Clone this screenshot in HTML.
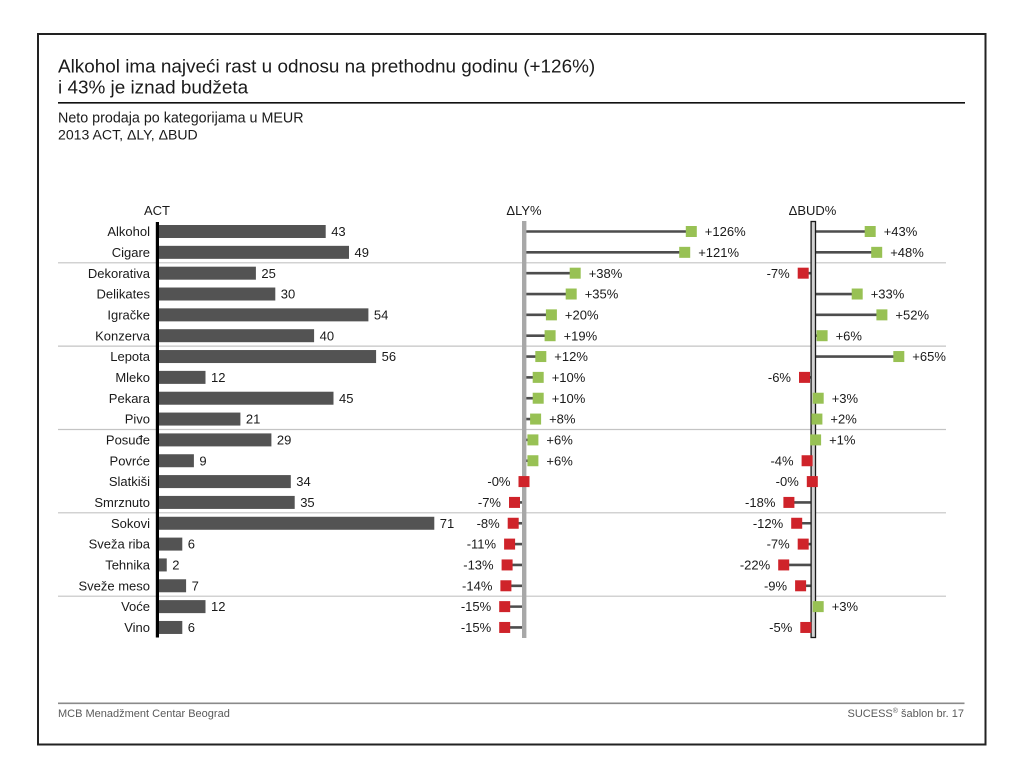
<!DOCTYPE html>
<html>
<head>
<meta charset="utf-8">
<style>
html,body{margin:0;padding:0;background:#fff;}
svg{display:block;}
text{font-family:"Liberation Sans",Arial,sans-serif;fill:#1a1a1a;}
.c{font-size:13px;text-anchor:end;}
.v{font-size:13px;}
.n{font-size:13px;text-anchor:end;}
.h{font-size:13px;text-anchor:middle;}
.f{font-size:11px;fill:#5a5a5a;}
</style>
</head>
<body>
<svg width="1024" height="779" viewBox="0 0 1024 779" xmlns="http://www.w3.org/2000/svg">
<rect x="0" y="0" width="1024" height="779" fill="#fff"/>
<rect x="38" y="34" width="947.5" height="710.5" fill="none" stroke="#222" stroke-width="2"/>

<!-- Title -->
<text x="58" y="72.7" style="font-size:18.9px">Alkohol ima najveći rast u odnosu na prethodnu godinu (+126%)</text>
<text x="58" y="93.3" style="font-size:18.9px">i 43% je iznad budžeta</text>
<line x1="58" y1="102.8" x2="965" y2="102.8" stroke="#111" stroke-width="1.6"/>
<text x="58" y="122.5" style="font-size:14.3px">Neto prodaja po kategorijama u MEUR</text>
<text x="58" y="139.5" style="font-size:14.1px">2013 ACT, ΔLY, ΔBUD</text>

<!-- separators -->
<g stroke="#c4c4c4" stroke-width="1.2">
<line x1="58" y1="262.8" x2="946" y2="262.8"/>
<line x1="58" y1="346.1" x2="946" y2="346.1"/>
<line x1="58" y1="429.5" x2="946" y2="429.5"/>
<line x1="58" y1="512.8" x2="946" y2="512.8"/>
<line x1="58" y1="596.2" x2="946" y2="596.2"/>
</g>

<!-- Headers -->
<text class="h" x="157" y="215">ACT</text>
<text class="h" x="524" y="215">ΔLY%</text>
<text class="h" x="812.5" y="215">ΔBUD%</text>

<!-- ACT bars -->
<g fill="#535353">
<rect x="159" y="225" width="166.7" height="13"/>
<rect x="159" y="245.84" width="190" height="13"/>
<rect x="159" y="266.68" width="96.9" height="13"/>
<rect x="159" y="287.52" width="116.3" height="13"/>
<rect x="159" y="308.36" width="209.4" height="13"/>
<rect x="159" y="329.2" width="155.1" height="13"/>
<rect x="159" y="350.04" width="217.1" height="13"/>
<rect x="159" y="370.88" width="46.5" height="13"/>
<rect x="159" y="391.72" width="174.5" height="13"/>
<rect x="159" y="412.56" width="81.4" height="13"/>
<rect x="159" y="433.4" width="112.4" height="13"/>
<rect x="159" y="454.24" width="34.9" height="13"/>
<rect x="159" y="475.08" width="131.8" height="13"/>
<rect x="159" y="495.92" width="135.7" height="13"/>
<rect x="159" y="516.76" width="275.3" height="13"/>
<rect x="159" y="537.6" width="23.3" height="13"/>
<rect x="159" y="558.44" width="7.75" height="13"/>
<rect x="159" y="579.28" width="27.1" height="13"/>
<rect x="159" y="600.12" width="46.5" height="13"/>
<rect x="159" y="620.96" width="23.3" height="13"/>
</g>
<rect x="155.8" y="222" width="3.2" height="415.5" fill="#000"/>

<!-- Category labels -->
<text class="c" x="150" y="236.1">Alkohol</text>
<text class="c" x="150" y="256.9">Cigare</text>
<text class="c" x="150" y="277.8">Dekorativa</text>
<text class="c" x="150" y="298.6">Delikates</text>
<text class="c" x="150" y="319.5">Igračke</text>
<text class="c" x="150" y="340.3">Konzerva</text>
<text class="c" x="150" y="361.1">Lepota</text>
<text class="c" x="150" y="382">Mleko</text>
<text class="c" x="150" y="402.8">Pekara</text>
<text class="c" x="150" y="423.7">Pivo</text>
<text class="c" x="150" y="444.5">Posuđe</text>
<text class="c" x="150" y="465.3">Povrće</text>
<text class="c" x="150" y="486.2">Slatkiši</text>
<text class="c" x="150" y="507">Smrznuto</text>
<text class="c" x="150" y="527.9">Sokovi</text>
<text class="c" x="150" y="548.7">Sveža riba</text>
<text class="c" x="150" y="569.5">Tehnika</text>
<text class="c" x="150" y="590.4">Sveže meso</text>
<text class="c" x="150" y="611.2">Voće</text>
<text class="c" x="150" y="632.1">Vino</text>

<!-- ACT values -->
<text class="v" x="331.2" y="236.1">43</text>
<text class="v" x="354.5" y="256.9">49</text>
<text class="v" x="261.4" y="277.8">25</text>
<text class="v" x="280.8" y="298.6">30</text>
<text class="v" x="373.9" y="319.5">54</text>
<text class="v" x="319.6" y="340.3">40</text>
<text class="v" x="381.6" y="361.1">56</text>
<text class="v" x="211" y="382">12</text>
<text class="v" x="339" y="402.8">45</text>
<text class="v" x="245.9" y="423.7">21</text>
<text class="v" x="276.9" y="444.5">29</text>
<text class="v" x="199.4" y="465.3">9</text>
<text class="v" x="296.3" y="486.2">34</text>
<text class="v" x="300.2" y="507">35</text>
<text class="v" x="439.8" y="527.9">71</text>
<text class="v" x="187.8" y="548.7">6</text>
<text class="v" x="172.3" y="569.5">2</text>
<text class="v" x="191.6" y="590.4">7</text>
<text class="v" x="211" y="611.2">12</text>
<text class="v" x="187.8" y="632.1">6</text>

<!-- ΔLY connectors -->
<g stroke="#4d4d4d" stroke-width="2.6">
<line x1="524" y1="231.5" x2="691.3" y2="231.5"/>
<line x1="524" y1="252.34" x2="684.7" y2="252.34"/>
<line x1="524" y1="273.18" x2="575.2" y2="273.18"/>
<line x1="524" y1="294.02" x2="571.2" y2="294.02"/>
<line x1="524" y1="314.86" x2="551.4" y2="314.86"/>
<line x1="524" y1="335.7" x2="550.1" y2="335.7"/>
<line x1="524" y1="356.54" x2="540.8" y2="356.54"/>
<line x1="524" y1="377.38" x2="538.2" y2="377.38"/>
<line x1="524" y1="398.22" x2="538.2" y2="398.22"/>
<line x1="524" y1="419.06" x2="535.6" y2="419.06"/>
<line x1="524" y1="439.9" x2="532.9" y2="439.9"/>
<line x1="524" y1="460.74" x2="532.9" y2="460.74"/>
<line x1="524" y1="502.42" x2="514.5" y2="502.42"/>
<line x1="524" y1="523.26" x2="513.2" y2="523.26"/>
<line x1="524" y1="544.1" x2="509.6" y2="544.1"/>
<line x1="524" y1="564.94" x2="507.1" y2="564.94"/>
<line x1="524" y1="585.78" x2="505.9" y2="585.78"/>
<line x1="524" y1="606.62" x2="504.7" y2="606.62"/>
<line x1="524" y1="627.46" x2="504.7" y2="627.46"/>
</g>
<rect x="522" y="221" width="4.4" height="417" fill="#a8a8a8"/>

<!-- ΔLY markers -->
<g fill="#98c154">
<rect x="685.8" y="226" width="11" height="11"/>
<rect x="679.2" y="246.84" width="11" height="11"/>
<rect x="569.7" y="267.68" width="11" height="11"/>
<rect x="565.7" y="288.52" width="11" height="11"/>
<rect x="545.9" y="309.36" width="11" height="11"/>
<rect x="544.6" y="330.2" width="11" height="11"/>
<rect x="535.3" y="351.04" width="11" height="11"/>
<rect x="532.7" y="371.88" width="11" height="11"/>
<rect x="532.7" y="392.72" width="11" height="11"/>
<rect x="530.1" y="413.56" width="11" height="11"/>
<rect x="527.4" y="434.4" width="11" height="11"/>
<rect x="527.4" y="455.24" width="11" height="11"/>
</g>
<g fill="#cf232a">
<rect x="518.5" y="476.08" width="11" height="11"/>
<rect x="509" y="496.92" width="11" height="11"/>
<rect x="507.7" y="517.76" width="11" height="11"/>
<rect x="504.1" y="538.6" width="11" height="11"/>
<rect x="501.6" y="559.44" width="11" height="11"/>
<rect x="500.4" y="580.28" width="11" height="11"/>
<rect x="499.2" y="601.12" width="11" height="11"/>
<rect x="499.2" y="621.96" width="11" height="11"/>
</g>

<!-- ΔLY labels -->
<text class="v" x="704.8" y="236.1">+126%</text>
<text class="v" x="698.2" y="256.9">+121%</text>
<text class="v" x="588.7" y="277.8">+38%</text>
<text class="v" x="584.7" y="298.6">+35%</text>
<text class="v" x="564.9" y="319.5">+20%</text>
<text class="v" x="563.6" y="340.3">+19%</text>
<text class="v" x="554.3" y="361.1">+12%</text>
<text class="v" x="551.7" y="382">+10%</text>
<text class="v" x="551.7" y="402.8">+10%</text>
<text class="v" x="549.1" y="423.7">+8%</text>
<text class="v" x="546.4" y="444.5">+6%</text>
<text class="v" x="546.4" y="465.3">+6%</text>
<text class="n" x="510.5" y="486.2">-0%</text>
<text class="n" x="501" y="507">-7%</text>
<text class="n" x="499.7" y="527.9">-8%</text>
<text class="n" x="496.1" y="548.7">-11%</text>
<text class="n" x="493.6" y="569.5">-13%</text>
<text class="n" x="492.4" y="590.4">-14%</text>
<text class="n" x="491.2" y="611.2">-15%</text>
<text class="n" x="491.2" y="632.1">-15%</text>

<!-- ΔBUD connectors -->
<g stroke="#4d4d4d" stroke-width="2.6">
<line x1="813.3" y1="231.5" x2="870.2" y2="231.5"/>
<line x1="813.3" y1="252.34" x2="876.7" y2="252.34"/>
<line x1="813.3" y1="273.18" x2="803.2" y2="273.18"/>
<line x1="813.3" y1="294.02" x2="857.2" y2="294.02"/>
<line x1="813.3" y1="314.86" x2="881.9" y2="314.86"/>
<line x1="813.3" y1="335.7" x2="822.1" y2="335.7"/>
<line x1="813.3" y1="356.54" x2="898.8" y2="356.54"/>
<line x1="813.3" y1="377.38" x2="804.5" y2="377.38"/>
<line x1="813.3" y1="502.42" x2="788.9" y2="502.42"/>
<line x1="813.3" y1="523.26" x2="796.7" y2="523.26"/>
<line x1="813.3" y1="544.1" x2="803.2" y2="544.1"/>
<line x1="813.3" y1="564.94" x2="783.7" y2="564.94"/>
<line x1="813.3" y1="585.78" x2="800.6" y2="585.78"/>
<line x1="813.3" y1="627.46" x2="805.8" y2="627.46"/>
</g>
<rect x="811.1" y="221.5" width="4.4" height="416" fill="#d2d2d2" stroke="#1a1a1a" stroke-width="1.3"/>

<!-- ΔBUD markers -->
<g fill="#98c154">
<rect x="864.7" y="226" width="11" height="11"/>
<rect x="871.2" y="246.84" width="11" height="11"/>
<rect x="851.7" y="288.52" width="11" height="11"/>
<rect x="876.4" y="309.36" width="11" height="11"/>
<rect x="816.6" y="330.2" width="11" height="11"/>
<rect x="893.3" y="351.04" width="11" height="11"/>
<rect x="812.7" y="392.72" width="11" height="11"/>
<rect x="811.4" y="413.56" width="11" height="11"/>
<rect x="810.1" y="434.4" width="11" height="11"/>
<rect x="812.7" y="601.12" width="11" height="11"/>
</g>
<g fill="#cf232a">
<rect x="797.7" y="267.68" width="11" height="11"/>
<rect x="799" y="371.88" width="11" height="11"/>
<rect x="801.6" y="455.24" width="11" height="11"/>
<rect x="806.8" y="476.08" width="11" height="11"/>
<rect x="783.4" y="496.92" width="11" height="11"/>
<rect x="791.2" y="517.76" width="11" height="11"/>
<rect x="797.7" y="538.6" width="11" height="11"/>
<rect x="778.2" y="559.44" width="11" height="11"/>
<rect x="795.1" y="580.28" width="11" height="11"/>
<rect x="800.3" y="621.96" width="11" height="11"/>
</g>

<!-- ΔBUD labels -->
<text class="v" x="883.7" y="236.1">+43%</text>
<text class="v" x="890.2" y="256.9">+48%</text>
<text class="n" x="789.7" y="277.8">-7%</text>
<text class="v" x="870.7" y="298.6">+33%</text>
<text class="v" x="895.4" y="319.5">+52%</text>
<text class="v" x="835.6" y="340.3">+6%</text>
<text class="v" x="912.3" y="361.1">+65%</text>
<text class="n" x="791" y="382">-6%</text>
<text class="v" x="831.7" y="402.8">+3%</text>
<text class="v" x="830.4" y="423.7">+2%</text>
<text class="v" x="829.1" y="444.5">+1%</text>
<text class="n" x="793.6" y="465.3">-4%</text>
<text class="n" x="798.8" y="486.2">-0%</text>
<text class="n" x="775.4" y="507">-18%</text>
<text class="n" x="783.2" y="527.9">-12%</text>
<text class="n" x="789.7" y="548.7">-7%</text>
<text class="n" x="770.2" y="569.5">-22%</text>
<text class="n" x="787.1" y="590.4">-9%</text>
<text class="v" x="831.7" y="611.2">+3%</text>
<text class="n" x="792.3" y="632.1">-5%</text>

<!-- Footer -->
<line x1="58" y1="703.3" x2="964.5" y2="703.3" stroke="#8a8a8a" stroke-width="1.6"/>
<text class="f" x="58" y="717">MCB Menadžment Centar Beograd</text>
<text class="f" x="964" y="717" text-anchor="end">SUCESS<tspan dy="-4" style="font-size:7px">®</tspan><tspan dy="4"> šablon br. 17</tspan></text>
</svg>
</body>
</html>
